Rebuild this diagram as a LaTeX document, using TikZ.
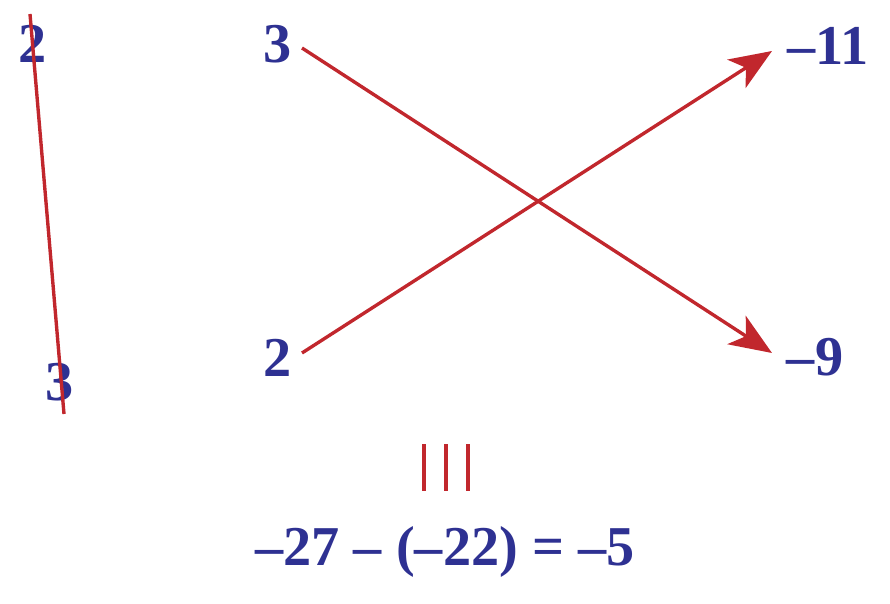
\documentclass[tikz,border=0pt]{standalone}
\usepackage{fontspec}
\setmainfont{Liberation Serif}
\usetikzlibrary{arrows.meta}
\definecolor{nblue}{HTML}{2E3192}
\definecolor{lred}{HTML}{C1272D}
\begin{document}
\begin{tikzpicture}[x=0.025cm,y=-0.025cm,
  num/.style={text=nblue,font=\fontsize{40}{44}\selectfont\bfseries,inner sep=0pt},
  ln/.style={draw=lred,line width=2.4pt},
  arr/.style={ln,-{Stealth[length=30pt,width=24pt,inset=8pt]}}]
\useasboundingbox (0,0) rectangle (890,604);
\node[num] (a) at (33,44) {2};
\node[num] (b) at (278,44) {3};
\node[num] (c) at (828,46) {–11};
\node[num] (d) at (60,382) {3};
\node[num] (e) at (278,358) {2};
\node[num] (f) at (815,357) {–9};
\node[num] (g) at (445,552) {–27 – (–22) = –5};
\coordinate (l1) at (30,14); \coordinate (l2) at (64,414);
\draw[ln] (l1) -- (l2);
\coordinate (s1) at (302,48); \coordinate (t1) at (772,353);
\coordinate (s2) at (302,353); \coordinate (t2) at (772,51);
\draw[arr] (s1) -- (t1);
\draw[arr] (s2) -- (t2);
\foreach \x/\n in {424/p,446/q,468/r}{
  \coordinate (\n1) at (\x,444); \coordinate (\n2) at (\x,491);
  \draw[ln,line width=3pt] (\n1) -- (\n2);}
\end{tikzpicture}
\end{document}
